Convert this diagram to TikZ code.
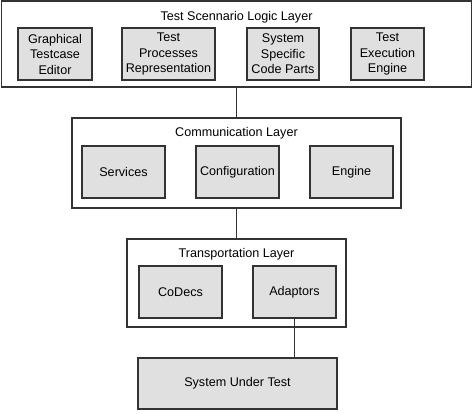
\documentclass[tikz,border=0pt]{standalone}
\usepackage{fontspec}
\setmainfont{Liberation Sans}
\usepackage{xcolor,tikz}
\usetikzlibrary{positioning}
\definecolor{edge}{HTML}{333333}
\definecolor{part}{HTML}{E0E0E0}
\tikzset{%
  layer/.style={draw=edge,line width=1.5pt,fill=white,inner sep=0pt},
  part/.style={draw=edge,line width=1.5pt,fill=part,align=center,inner sep=0pt,minimum height=52},
  title/.style={inner sep=0pt},
  link/.style={draw=edge,line width=1.3pt}
}

\begin{document}
\begin{tikzpicture}[x=1pt,y=-1pt,font=\fontsize{12.6}{15.5}\selectfont]
  \useasboundingbox (0,0) rectangle (474,413);

  % layers
  \node [layer,minimum width=470,minimum height=86] (logic) at (236.5,44) {};
  \node [layer,minimum width=329,minimum height=90] (comm) at (236.5,163) {};
  \node [layer,minimum width=219,minimum height=88] (trans) at (236.5,283) {};

  \node [title] (logict) at (236.5,17) {Test Scennario Logic Layer};
  \node [title] (commt) at (236.5,133) {Communication Layer};
  \node [title] (transt) at (236.5,254) {Transportation Layer};

  % parts of the logic layer
  \node [part,minimum width=74] (gte) at (55,54) {Graphical\\Testcase\\Editor};
  \node [part,minimum width=93] (tpr) at (168.5,54) {Test\\Processes\\Representation};
  \node [part,minimum width=72] (sscp) at (283,54) {System\\Specific\\Code Parts};
  \node [part,minimum width=73] (tee) at (387.5,54) {Test\\Execution\\Engine};

  % parts of the communication layer
  \node [part,minimum width=83] (serv) at (123.5,172) {Services};
  \node [part,minimum width=83] (conf) at (237.5,172) {Configuration};
  \node [part,minimum width=83] (eng) at (351.5,172) {Engine};

  % parts of the transportation layer
  \node [part,minimum width=83] (codec) at (180.5,292) {CoDecs};
  \node [part,minimum width=83] (adapt) at (294.5,292) {Adaptors};

  \node [part,minimum width=199,minimum height=51] (sut) at (237.5,383.5) {System Under Test};

  \draw [link] (logic.south) -- (comm.north);
  \draw [link] (comm.south) -- (trans.north);
  \draw [link] (adapt.south) -- (adapt.south |- sut.north);
\end{tikzpicture}
\end{document}
